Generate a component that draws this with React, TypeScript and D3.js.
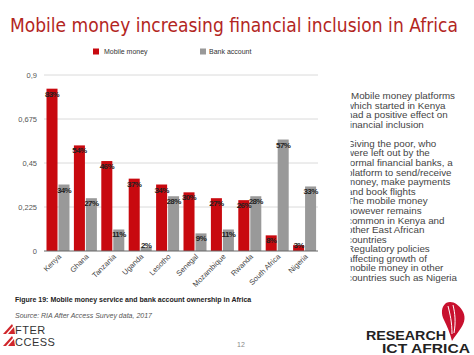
import React from "react";
import * as d3 from "d3";

const countries = ["Kenya", "Ghana", "Tanzania", "Uganda", "Lesotho", "Senegal", "Mozambique", "Rwanda", "South Africa", "Nigeria"];
const mobileMoney = [0.83, 0.54, 0.46, 0.37, 0.34, 0.30, 0.27, 0.26, 0.08, 0.03];
const bankAccount = [0.34, 0.27, 0.11, 0.02, 0.28, 0.09, 0.11, 0.28, 0.57, 0.33];
const yTicks = [0, 0.225, 0.45, 0.675, 0.9];
const seriesNames = ["Mobile money", "Bank account"];
const bulletLines = [
  "Mobile money platforms",
  "which started in Kenya",
  "had a positive effect on",
  "financial inclusion",
  "",
  "Giving the poor, who",
  "were left out by the",
  "formal financial banks, a",
  "platform to send/receive",
  "money, make payments",
  "and book flights",
  "The mobile money",
  "however remains",
  "common in Kenya and",
  "other East African",
  "countries",
  "Regulatory policies",
  "affecting growth of",
  "mobile money in other",
  "countries such as Nigeria",
];

const RED = "#c8090f";
const GRAY = "#999999";
const FONT = "'Liberation Sans', Arial, sans-serif";

export default function App() {
  const W = 474, H = 355;
  const x = d3.scaleBand<string>().domain(countries).range([44, 318]).paddingInner(0).paddingOuter(0);
  const inner = d3.scaleBand<string>().domain(seriesNames).range([2.5, 25.5]).paddingInner(0.08);
  const y = d3.scaleLinear().domain([0, 0.9]).range([251, 75]);
  const fmtTick = (v: number) => String(v).replace(".", ",");
  const series = [
    { name: seriesNames[0], values: mobileMoney, color: RED },
    { name: seriesNames[1], values: bankAccount, color: GRAY },
  ];

  return (
    <svg width={W} height={H} style={{ position: "fixed", left: 0, top: 0, background: "#fff" }}>
      <rect width={W} height={H} fill="#fff" />
      <text x={10} y={32} fontFamily="'DejaVu Sans', Verdana, sans-serif" fontSize={19} fill="#b3261e" textLength={448} lengthAdjust="spacingAndGlyphs">
        Mobile money increasing financial inclusion in Africa
      </text>

      {/* legend */}
      <g fontFamily={FONT} fontSize={7} fill="#333">
        <rect x={93} y={48.5} width={6} height={6} fill={RED} />
        <text x={104} y={54}>Mobile money</text>
        <rect x={200} y={48.5} width={6} height={6} fill={GRAY} />
        <text x={209} y={54}>Bank account</text>
      </g>

      {/* grid & y axis */}
      <g fontFamily={FONT} fontSize={7.5} fill="#555">
        {yTicks.map((t) => (
          <g key={t}>
            {t > 0 && <line x1={44} x2={318} y1={y(t)} y2={y(t)} stroke="#d0d0d0" strokeWidth={0.8} />}
            <text x={37} y={y(t) + 2.5} textAnchor="end">{fmtTick(t)}</text>
          </g>
        ))}
      </g>

      {/* bars */}
      {series.map((s) => (
        <g key={s.name}>
          {countries.map((c, i) => {
            const bx = (x(c) as number) + (inner(s.name) as number);
            const top = y(s.values[i]);
            return <rect key={c} x={bx} y={top} width={inner.bandwidth()} height={251 - top} fill={s.color} />;
          })}
        </g>
      ))}
      <line x1={44} x2={318} y1={251} y2={251} stroke="#666" strokeWidth={1} />

      {/* data labels */}
      <g fontFamily={FONT} fontSize={8} fontWeight="bold" fill="#222" textAnchor="middle" letterSpacing={-0.6}>
        {series.map((s) =>
          countries.map((c, i) => {
            const cx = (x(c) as number) + (inner(s.name) as number) + inner.bandwidth() / 2;
            const by = Math.min(y(s.values[i]) + 8, 248);
            return (
              <text key={s.name + c} x={cx} y={by}>
                {Math.round(s.values[i] * 100) + "%"}
              </text>
            );
          })
        )}
      </g>

      {/* x labels */}
      <g fontFamily={FONT} fontSize={7.5} fill="#444">
        {countries.map((c) => {
          const cx = (x(c) as number) + x.bandwidth() / 2 + 4;
          return (
            <text key={c} x={cx} y={257} textAnchor="end" transform={`rotate(-45 ${cx} ${257})`}>
              {c}
            </text>
          );
        })}
      </g>

      {/* caption */}
      <text x={15} y={302} fontFamily={FONT} fontSize={7} fontWeight="bold" fill="#222">
        Figure 19: Mobile money service and bank account ownership in Africa
      </text>
      <text x={15} y={318} fontFamily={FONT} fontSize={7} fontStyle="italic" fill="#555">
        Source: RIA After Access Survey data, 2017
      </text>

      {/* right bullet text */}
      <defs>
        <clipPath id="rclip">
          <rect x={350.5} y={80} width={124} height={210} />
        </clipPath>
      </defs>
      <g clipPath="url(#rclip)" fontFamily={FONT} fontSize={9.8} fill="#444">
        {bulletLines.map((l, i) => (
          <text key={i} x={i === 0 ? 351 : 347} y={99 + i * 9.58}>{l}</text>
        ))}
      </g>

      {/* page number */}
      <text x={241} y={347} fontFamily={FONT} fontSize={7} fill="#888" textAnchor="middle">12</text>

      {/* After Access logo */}
      <g>
        <path d="M3,334 L12,324 L13,326 L6,334 Z" fill="#d0262b" />
        <path d="M8,334 L14,327 L15,334 Z" fill="#d0262b" />
        <path d="M3,346 L12,336 L13,338 L6,346 Z" fill="#d0262b" />
        <path d="M8,346 L14,339 L15,346 Z" fill="#d0262b" />
        <text x={15} y={334} fontFamily={FONT} fontSize={11} fill="#333" letterSpacing={0.5}>FTER</text>
        <text x={15} y={346} fontFamily={FONT} fontSize={11} fill="#333" letterSpacing={0.5}>CCESS</text>
      </g>

      {/* Research ICT Africa logo */}
      <g>
        <path d="M446,303 C452,300 458,304 462,310 C466,316 465,322 461,328 C458,333 454,337 452,341 C450,333 447,326 444,320 C441,314 441,307 446,303 Z" fill="#c8102e" />
        <path d="M448,306 C450,314 452,322 452,334" stroke="#fff" strokeWidth={1} fill="none" />
        <path d="M453,305 C455,313 456,322 454,333" stroke="#fff" strokeWidth={1} fill="none" />
        <text x={366} y={340} fontFamily={FONT} fontSize={13} fontWeight="bold" fill="#222" textLength={80} lengthAdjust="spacingAndGlyphs">RESEARCH</text>
        <text x={382} y={353} fontFamily={FONT} fontSize={13} fontWeight="bold" fill="#222" textLength={88} lengthAdjust="spacingAndGlyphs">ICT AFRICA</text>
      </g>
    </svg>
  );
}
